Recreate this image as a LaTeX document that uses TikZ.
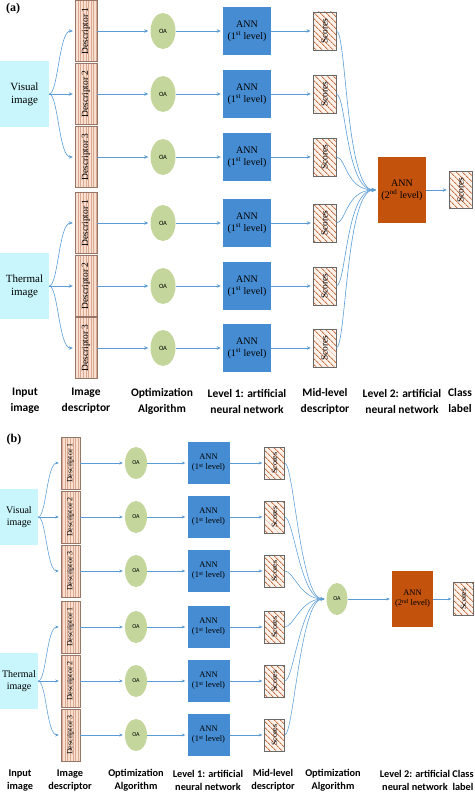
\documentclass[tikz,border=0pt]{standalone}
\usepackage{fontspec}
\setmainfont{Liberation Serif}
\newfontfamily\labelfont{Carlito}
\usepackage{graphicx}
\usepackage{tikz}
\usetikzlibrary{arrows.meta,arrows}
\usetikzlibrary{positioning}
\usetikzlibrary{shapes.geometric,patterns.meta}

\definecolor{inputcyan}{RGB}{200,246,252}
\definecolor{descfill}{RGB}{250,224,208}
\definecolor{descline}{RGB}{218,168,145}
\definecolor{descedge}{RGB}{150,118,105}
\definecolor{oagreen}{RGB}{196,214,155}
\definecolor{annblue}{RGB}{70,140,210}
\definecolor{anntwo}{RGB}{194,82,12}
\definecolor{scorefill}{RGB}{253,242,234}
\definecolor{scoreline}{RGB}{198,112,72}
\definecolor{scoreedge}{RGB}{105,105,105}
\definecolor{linkblue}{RGB}{91,155,213}

\tikzset{
  inbox/.style={fill=inputcyan,inner sep=0pt,align=center},
  descbox/.style={draw=descedge,preaction={fill=descfill},
    pattern={Lines[angle=90,distance=2.6pt,line width=0.35pt]},pattern color=descline,inner sep=0pt},
  oanode/.style={ellipse,fill=oagreen,inner sep=0pt},
  annbox/.style={fill=annblue,inner sep=0pt,align=center},
  anntwobox/.style={fill=anntwo,inner sep=0pt,align=center},
  scorebox/.style={draw=scoreedge,preaction={fill=scorefill},
    pattern={Lines[angle=-45,distance=4pt,line width=0.9pt]},pattern color=scoreline,inner sep=0pt},
  caption/.style={align=center,inner sep=0pt}
}

\begin{document}
\begin{tikzpicture}[x=1pt,y=-1pt]
        \useasboundingbox (0,0) rectangle (474,792);

        % (a)
        \node[font=\bfseries\fontsize{12}{14}\selectfont] (tagA) at (13,9) {(a)};

        \begin{scope}[every node/.style={inbox,minimum width=49pt,minimum height=66pt,
            font=\fontsize{11}{13}\selectfont}]
            \node (visA) at (24.5,94) {Visual\\image};
            \node (thrA) at (24.5,286) {Thermal\\image};
        \end{scope}

        \foreach \i/\y/\d in {1/31/1,2/94/2,3/157/3,4/223/1,5/286/2,6/348/3}{
            \node[descbox,minimum width=22pt,minimum height=61pt,font=\fontsize{9.5}{11}\selectfont]
                (descA\i) at (86,\y) {\rotatebox{90}{Descriptor \d}};
            \node[oanode,minimum width=25pt,minimum height=36pt,font=\labelfont\fontsize{6.5}{7}\selectfont]
                (oaA\i) at (163,\y) {OA};
            \node[annbox,minimum size=48pt,font=\fontsize{10}{12}\selectfont]
                (annA\i) at (247,\y) {ANN\\(1\textsuperscript{st} level)};
            \node[scorebox,minimum width=23pt,minimum height=38pt,font=\fontsize{9.5}{11}\selectfont]
                (scA\i) at (324.5,\y) {\rotatebox{90}{Scores}};
        }
        \node[anntwobox,minimum width=48pt,minimum height=66pt,font=\fontsize{10}{12}\selectfont]
            (annTwoA) at (402,190) {ANN\\(2\textsuperscript{nd} level)};
        \node[scorebox,minimum width=23pt,minimum height=37pt,font=\fontsize{9.5}{11}\selectfont]
            (finA) at (460.5,190) {\rotatebox{90}{Scores}};

        \begin{scope}[every node/.style={caption,font=\labelfont\bfseries\fontsize{11.5}{16}\selectfont}]
            \node (inA) at (25,401) {Input\\image};
            \node (idA) at (86,401) {Image\\descriptor};
            \node (optA) at (162,401) {Optimization\\Algorithm};
            \node (lvlOneA) at (247,401) {Level 1: artificial\\neural network};
            \node (midA) at (325,401) {Mid-level\\descriptor};
            \node (lvlTwoA) at (402,401) {Level 2: artificial\\neural network};
            \node (clsA) at (460,401) {Class\\label};
        \end{scope}

        \begin{scope}[>={Stealth[length=4pt,width=3.5pt]},draw=linkblue,line width=0.6pt,shorten >=2pt]
            \path [->] (visA.east) edge[out=0,in=180,out distance=9pt,in distance=16pt] (descA1.west);
            \path [->] (visA.east) edge (descA2.west);
            \path [->] (visA.east) edge[out=0,in=180,out distance=9pt,in distance=16pt] (descA3.west);
            \path [->] (thrA.east) edge[out=0,in=180,out distance=9pt,in distance=16pt] (descA4.west);
            \path [->] (thrA.east) edge (descA5.west);
            \path [->] (thrA.east) edge[out=0,in=180,out distance=9pt,in distance=16pt] (descA6.west);
            \foreach \i in {1,...,6}{
                \path [->] (descA\i) edge (oaA\i);
                \path [->] (oaA\i) edge (annA\i);
                \path [->] (annA\i) edge (scA\i);
                \path [->] (scA\i.east) edge[out=0,in=180,out distance=10pt,in distance=32pt] (annTwoA.west);
            }
            \path [->] (annTwoA) edge (finA);
        \end{scope}

        % (b)
        \node[font=\bfseries\fontsize{12}{14}\selectfont] (tagB) at (14,440) {(b)};

        \begin{scope}[every node/.style={inbox,minimum width=38pt,minimum height=56pt,
            font=\fontsize{10}{12}\selectfont}]
            \node (visB) at (19,517) {Visual\\image};
            \node (thrB) at (19,681) {Thermal\\image};
        \end{scope}

        \foreach \i/\y/\d in {1/463/1,2/517/2,3/571/3,4/627/1,5/681/2,6/735/3}{
            \node[descbox,minimum width=19pt,minimum height=52pt,font=\fontsize{8}{9}\selectfont]
                (descB\i) at (70.5,\y) {\rotatebox{90}{Descriptor \d}};
            \node[oanode,minimum width=22pt,minimum height=32pt,font=\labelfont\fontsize{6}{7}\selectfont]
                (oaB\i) at (136,\y) {OA};
            \node[annbox,minimum size=42pt,font=\fontsize{8.5}{10}\selectfont]
                (annB\i) at (208.5,\y) {ANN\\(1\textsuperscript{st} level)};
            \node[scorebox,minimum width=20pt,minimum height=32pt,font=\fontsize{8}{9}\selectfont]
                (scB\i) at (274.5,\y) {\rotatebox{90}{Scores}};
        }
        \node[oanode,minimum width=21pt,minimum height=32pt,font=\labelfont\fontsize{6}{7}\selectfont]
            (oaMidB) at (337,599) {OA};
        \node[anntwobox,minimum width=41pt,minimum height=56pt,font=\fontsize{8.5}{10}\selectfont]
            (annTwoB) at (412.5,599) {ANN\\(2\textsuperscript{nd} level)};
        \node[scorebox,minimum width=20pt,minimum height=33pt,font=\fontsize{8}{9}\selectfont]
            (finB) at (463.5,599) {\rotatebox{90}{Scores}};

        \begin{scope}[every node/.style={caption,font=\labelfont\bfseries\fontsize{10.3}{13}\selectfont}]
            \node (inB) at (20,780.5) {Input\\image};
            \node (idB) at (70,780.5) {Image\\descriptor};
            \node (optB) at (136,780.5) {Optimization\\Algorithm};
            \node (lvlOneB) at (208,780.5) {Level 1: artificial\\neural network};
            \node (midB) at (273,780.5) {Mid-level\\descriptor};
            \node (optMidB) at (333,780.5) {Optimization\\Algorithm};
            \node (lvlTwoB) at (415,780.5) {Level 2: artificial\\neural network};
            \node (clsB) at (463,780.5) {Class\\label};
        \end{scope}

        \begin{scope}[>={Stealth[length=3.5pt,width=3pt]},draw=linkblue,line width=0.55pt,shorten >=2pt]
            \path [->] (visB.east) edge[out=0,in=180,out distance=8pt,in distance=14pt] (descB1.west);
            \path [->] (visB.east) edge (descB2.west);
            \path [->] (visB.east) edge[out=0,in=180,out distance=8pt,in distance=14pt] (descB3.west);
            \path [->] (thrB.east) edge[out=0,in=180,out distance=8pt,in distance=14pt] (descB4.west);
            \path [->] (thrB.east) edge (descB5.west);
            \path [->] (thrB.east) edge[out=0,in=180,out distance=8pt,in distance=14pt] (descB6.west);
            \foreach \i in {1,...,6}{
                \path [->] (descB\i) edge (oaB\i);
                \path [->] (oaB\i) edge (annB\i);
                \path [->] (annB\i) edge (scB\i);
                \path [->] (scB\i.east) edge[out=0,in=180,out distance=9pt,in distance=26pt] (oaMidB.west);
            }
            \path [->] (oaMidB) edge (annTwoB);
            \path [->] (annTwoB) edge (finB);
        \end{scope}
    \end{tikzpicture}
\end{document}
